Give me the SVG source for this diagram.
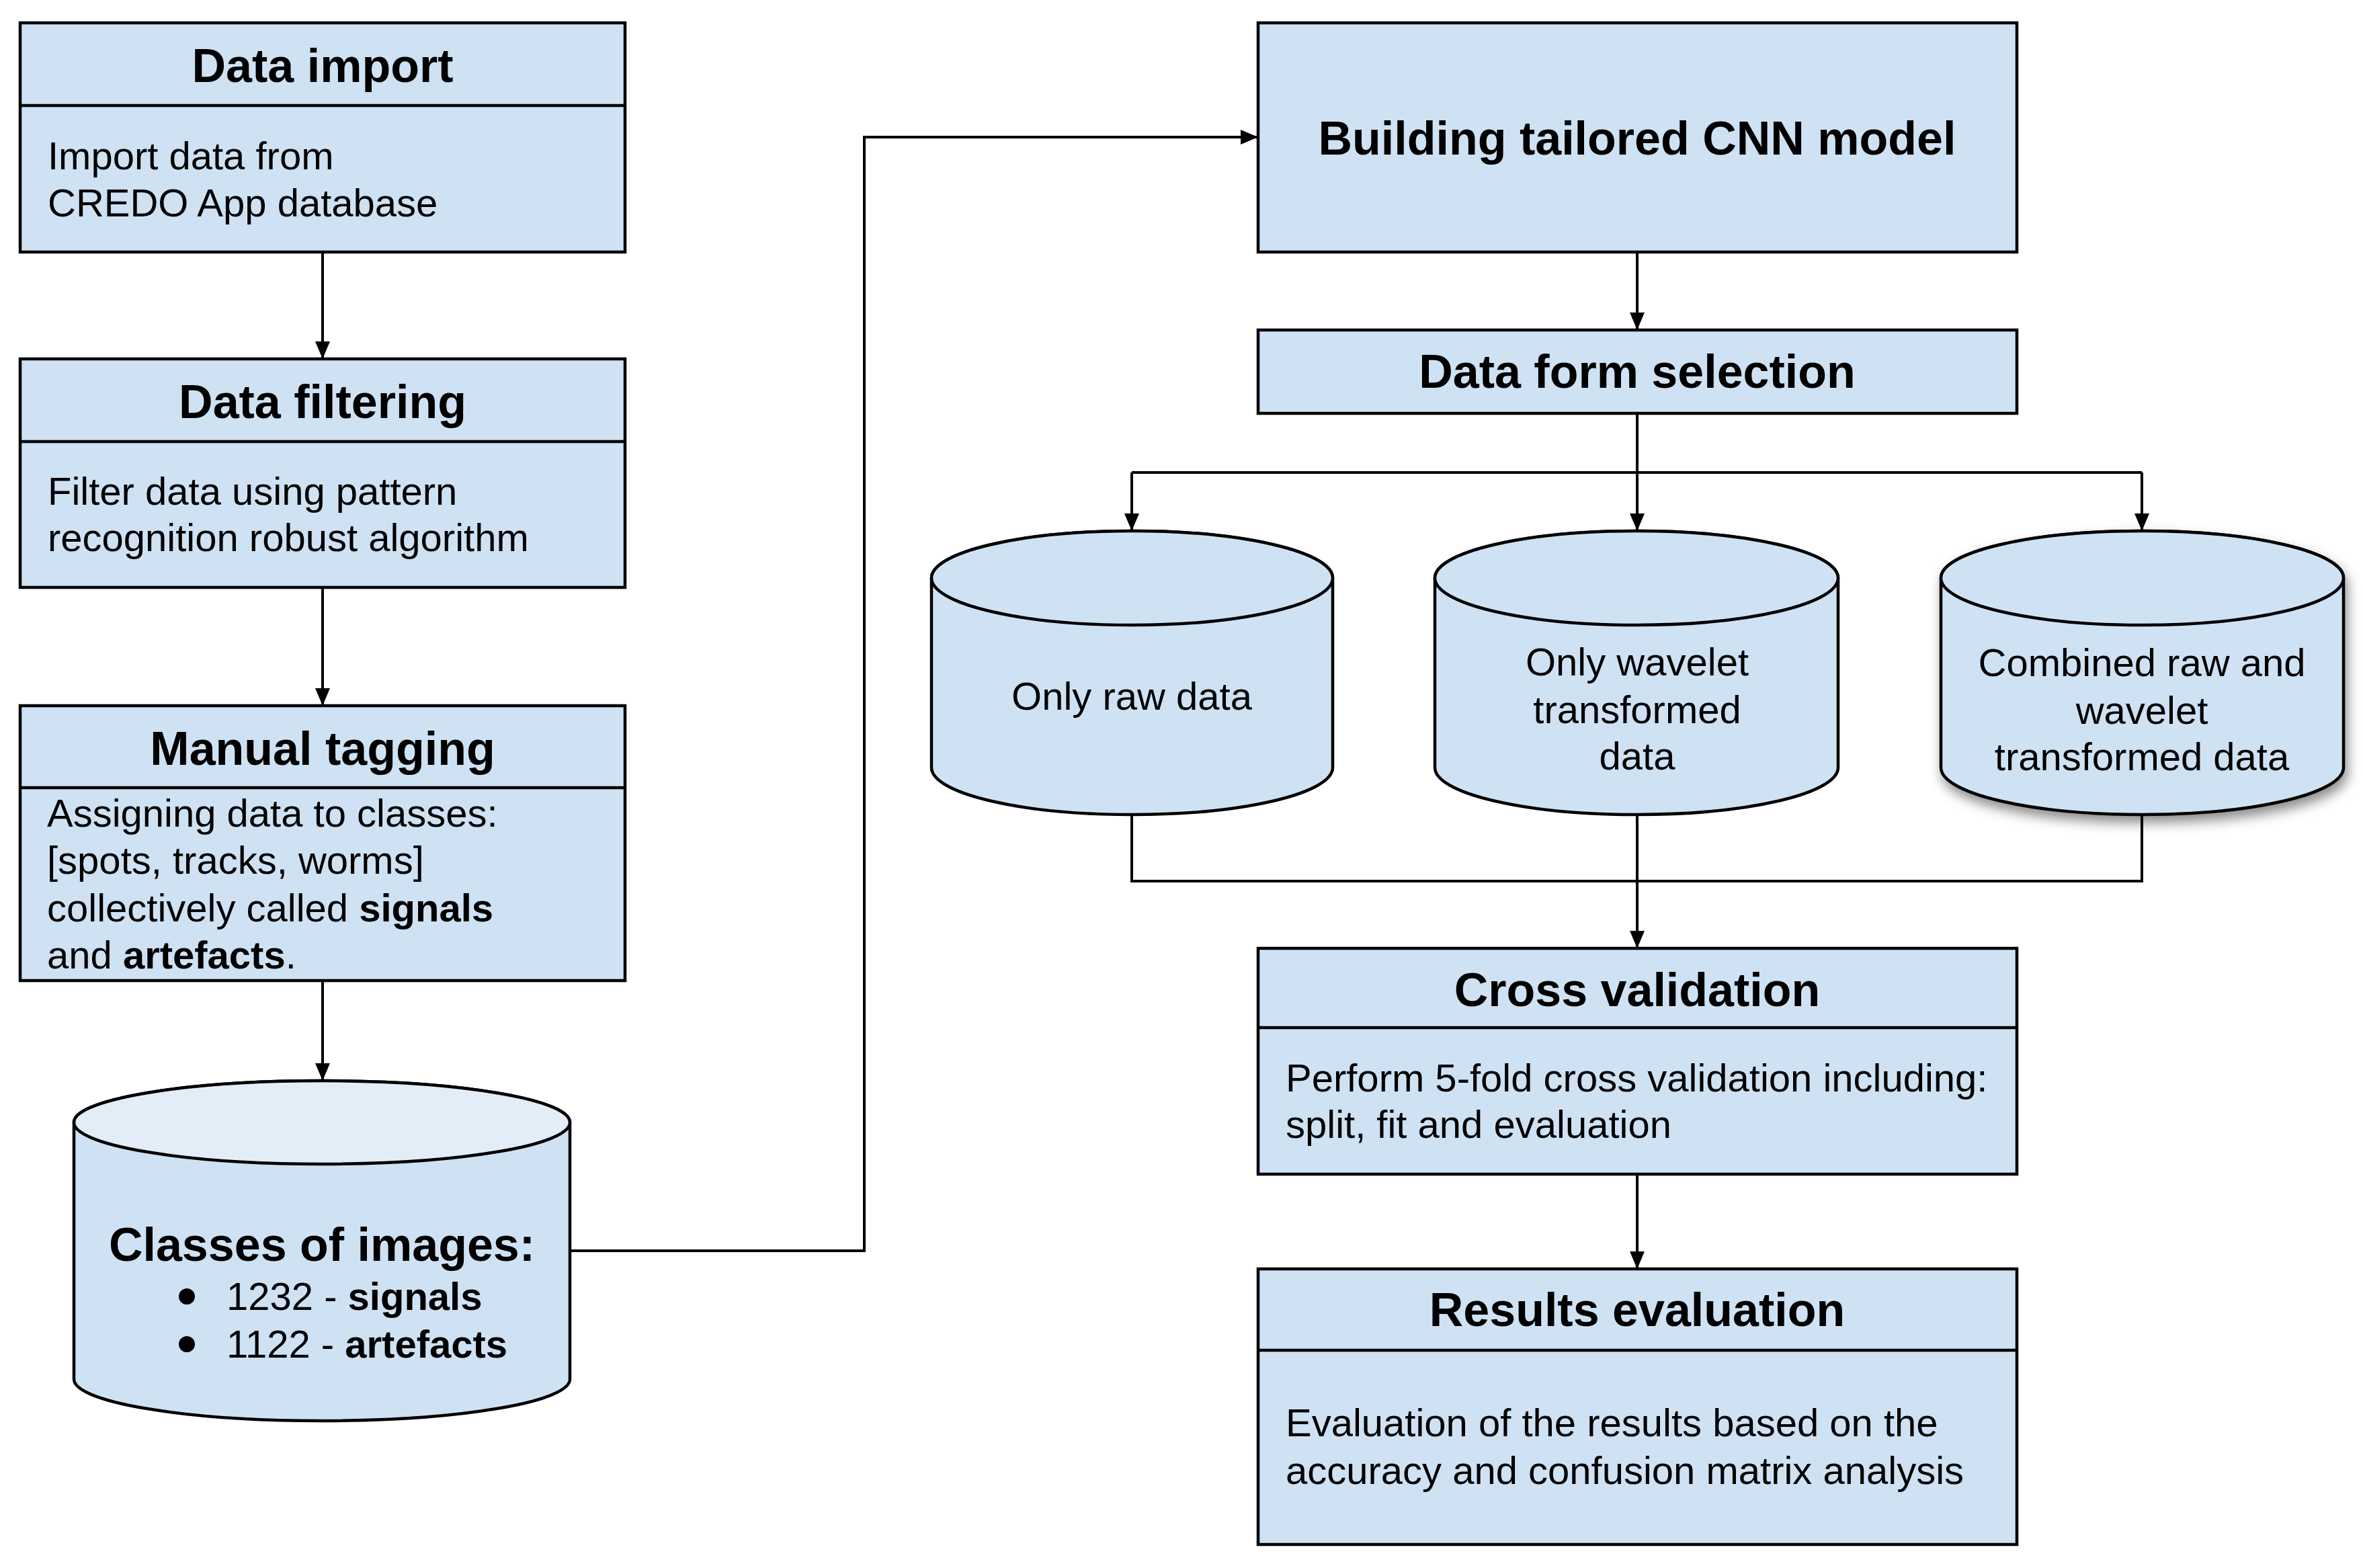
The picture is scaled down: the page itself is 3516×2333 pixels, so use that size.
<svg xmlns="http://www.w3.org/2000/svg" width="3516" height="2333" viewBox="0 0 3516 2333">
<style>
.box{fill:#cfe2f3;stroke:#000;stroke-width:4.5}
.div{stroke:#000;stroke-width:4.5;fill:none}
.cyl{fill:#cfe2f3;stroke:#000;stroke-width:4.5}
.ln{fill:none;stroke:#000;stroke-width:4}
.t{font-family:"Liberation Sans",Arial,sans-serif;font-size:70px;font-weight:bold;fill:#000;text-anchor:middle}
.b{font-family:"Liberation Sans",Arial,sans-serif;font-size:58px;fill:#000}
.c{text-anchor:middle}
.bb{font-weight:bold}
</style>
<defs>
<marker id="ah" markerUnits="userSpaceOnUse" markerWidth="26" markerHeight="22" refX="26" refY="11" orient="auto">
<path d="M0,0 L26,11 L0,22 z" fill="#000"/>
</marker>
<filter id="sh" x="-10%" y="-10%" width="130%" height="130%">
<feDropShadow dx="4" dy="10" stdDeviation="9" flood-color="#000" flood-opacity="0.45"/>
</filter>
</defs>
<rect width="3516" height="2333" fill="#fff"/>

<g id="connectors">
<line class="ln" x1="480" y1="375" x2="480" y2="534" marker-end="url(#ah)"/>
<line class="ln" x1="480" y1="874" x2="480" y2="1050" marker-end="url(#ah)"/>
<line class="ln" x1="480" y1="1459" x2="480" y2="1608" marker-end="url(#ah)"/>
<polyline class="ln" points="848,1861 1286,1861 1286,204 1872,204" marker-end="url(#ah)"/>
<line class="ln" x1="2436" y1="375" x2="2436" y2="491" marker-end="url(#ah)"/>
<line class="ln" x1="2436" y1="615" x2="2436" y2="790" marker-end="url(#ah)"/>
<line class="ln" x1="1684" y1="703" x2="3187" y2="703"/>
<line class="ln" x1="1684" y1="703" x2="1684" y2="790" marker-end="url(#ah)"/>
<line class="ln" x1="3187" y1="703" x2="3187" y2="790" marker-end="url(#ah)"/>
<polyline class="ln" points="1684,1212 1684,1311 3187,1311 3187,1212"/>
<line class="ln" x1="2436" y1="1212" x2="2436" y2="1411" marker-end="url(#ah)"/>
<line class="ln" x1="2436" y1="1747" x2="2436" y2="1888" marker-end="url(#ah)"/>
</g>

<g id="data-import">
<rect class="box" x="30" y="34" width="900" height="341"/>
<line class="div" x1="30" y1="157" x2="930" y2="157"/>
<text class="t" x="480" y="122">Data import</text>
<text class="b" x="71" y="252">Import data from</text>
<text class="b" x="71" y="322">CREDO App database</text>
</g>

<g id="data-filtering">
<rect class="box" x="30" y="534" width="900" height="340"/>
<line class="div" x1="30" y1="657" x2="930" y2="657"/>
<text class="t" x="480" y="622">Data filtering</text>
<text class="b" x="71" y="751">Filter data using pattern</text>
<text class="b" x="71" y="820">recognition robust algorithm</text>
</g>

<g id="manual-tagging">
<rect class="box" x="30" y="1050" width="900" height="409"/>
<line class="div" x1="30" y1="1172" x2="930" y2="1172"/>
<text class="t" x="480" y="1138">Manual tagging</text>
<text class="b" x="70" y="1230">Assigning data to classes:</text>
<text class="b" x="70" y="1300">[spots, tracks, worms]</text>
<text class="b" x="70" y="1371">collectively called <tspan class="bb">signals</tspan></text>
<text class="b" x="70" y="1441">and <tspan class="bb">artefacts</tspan>.</text>
</g>

<g id="classes-of-images">
<path class="cyl" d="M110,1670 L110,2052 A369,62 0 0 0 848,2052 L848,1670 A369,62 0 0 0 110,1670 Z"/>
<ellipse cx="479" cy="1670" rx="369" ry="62" fill="#e2edf8" stroke="#000" stroke-width="4.5"/>
<text class="t" x="479" y="1876">Classes of images:</text>
<circle cx="278" cy="1929" r="12" fill="#000"/>
<circle cx="278" cy="2000" r="12" fill="#000"/>
<text class="b" x="337" y="1949">1232 - <tspan class="bb">signals</tspan></text>
<text class="b" x="337" y="2020">1122 - <tspan class="bb">artefacts</tspan></text>
</g>

<g id="building-cnn">
<rect class="box" x="1872" y="34" width="1129" height="341"/>
<text class="t" x="2436" y="230">Building tailored CNN model</text>
</g>

<g id="data-form-selection">
<rect class="box" x="1872" y="491" width="1129" height="124"/>
<text class="t" x="2436" y="577">Data form selection</text>
</g>

<g id="only-raw">
<path class="cyl" d="M1386,860 L1386,1142 A298.5,70 0 0 0 1983,1142 L1983,860 A298.5,70 0 0 0 1386,860 Z"/>
<ellipse class="cyl" cx="1684.5" cy="860" rx="298.5" ry="70"/>
<text class="b c" x="1684" y="1056">Only raw data</text>
</g>

<g id="only-wavelet">
<path class="cyl" d="M2135,860 L2135,1142 A300,70 0 0 0 2735,1142 L2735,860 A300,70 0 0 0 2135,860 Z"/>
<ellipse class="cyl" cx="2435" cy="860" rx="300" ry="70"/>
<text class="b c" x="2436" y="1005">Only wavelet</text>
<text class="b c" x="2436" y="1076">transformed</text>
<text class="b c" x="2436" y="1145">data</text>
</g>

<g id="combined">
<path class="cyl" filter="url(#sh)" d="M2888,860 L2888,1142 A299.5,70 0 0 0 3487,1142 L3487,860 A299.5,70 0 0 0 2888,860 Z"/>
<ellipse class="cyl" cx="3187.5" cy="860" rx="299.5" ry="70"/>
<text class="b c" x="3187" y="1006">Combined raw and</text>
<text class="b c" x="3187" y="1077">wavelet</text>
<text class="b c" x="3187" y="1146">transformed data</text>
</g>

<g id="cross-validation">
<rect class="box" x="1872" y="1411" width="1129" height="336"/>
<line class="div" x1="1872" y1="1529" x2="3001" y2="1529"/>
<text class="t" x="2436" y="1497">Cross validation</text>
<text class="b" x="1913" y="1624">Perform 5-fold cross validation including:</text>
<text class="b" x="1913" y="1693">split, fit and evaluation</text>
</g>

<g id="results-evaluation">
<rect class="box" x="1872" y="1888" width="1129" height="410"/>
<line class="div" x1="1872" y1="2009" x2="3001" y2="2009"/>
<text class="t" x="2436" y="1973">Results evaluation</text>
<text class="b" x="1913" y="2137">Evaluation of the results based on the</text>
<text class="b" x="1913" y="2208">accuracy and confusion matrix analysis</text>
</g>
</svg>
